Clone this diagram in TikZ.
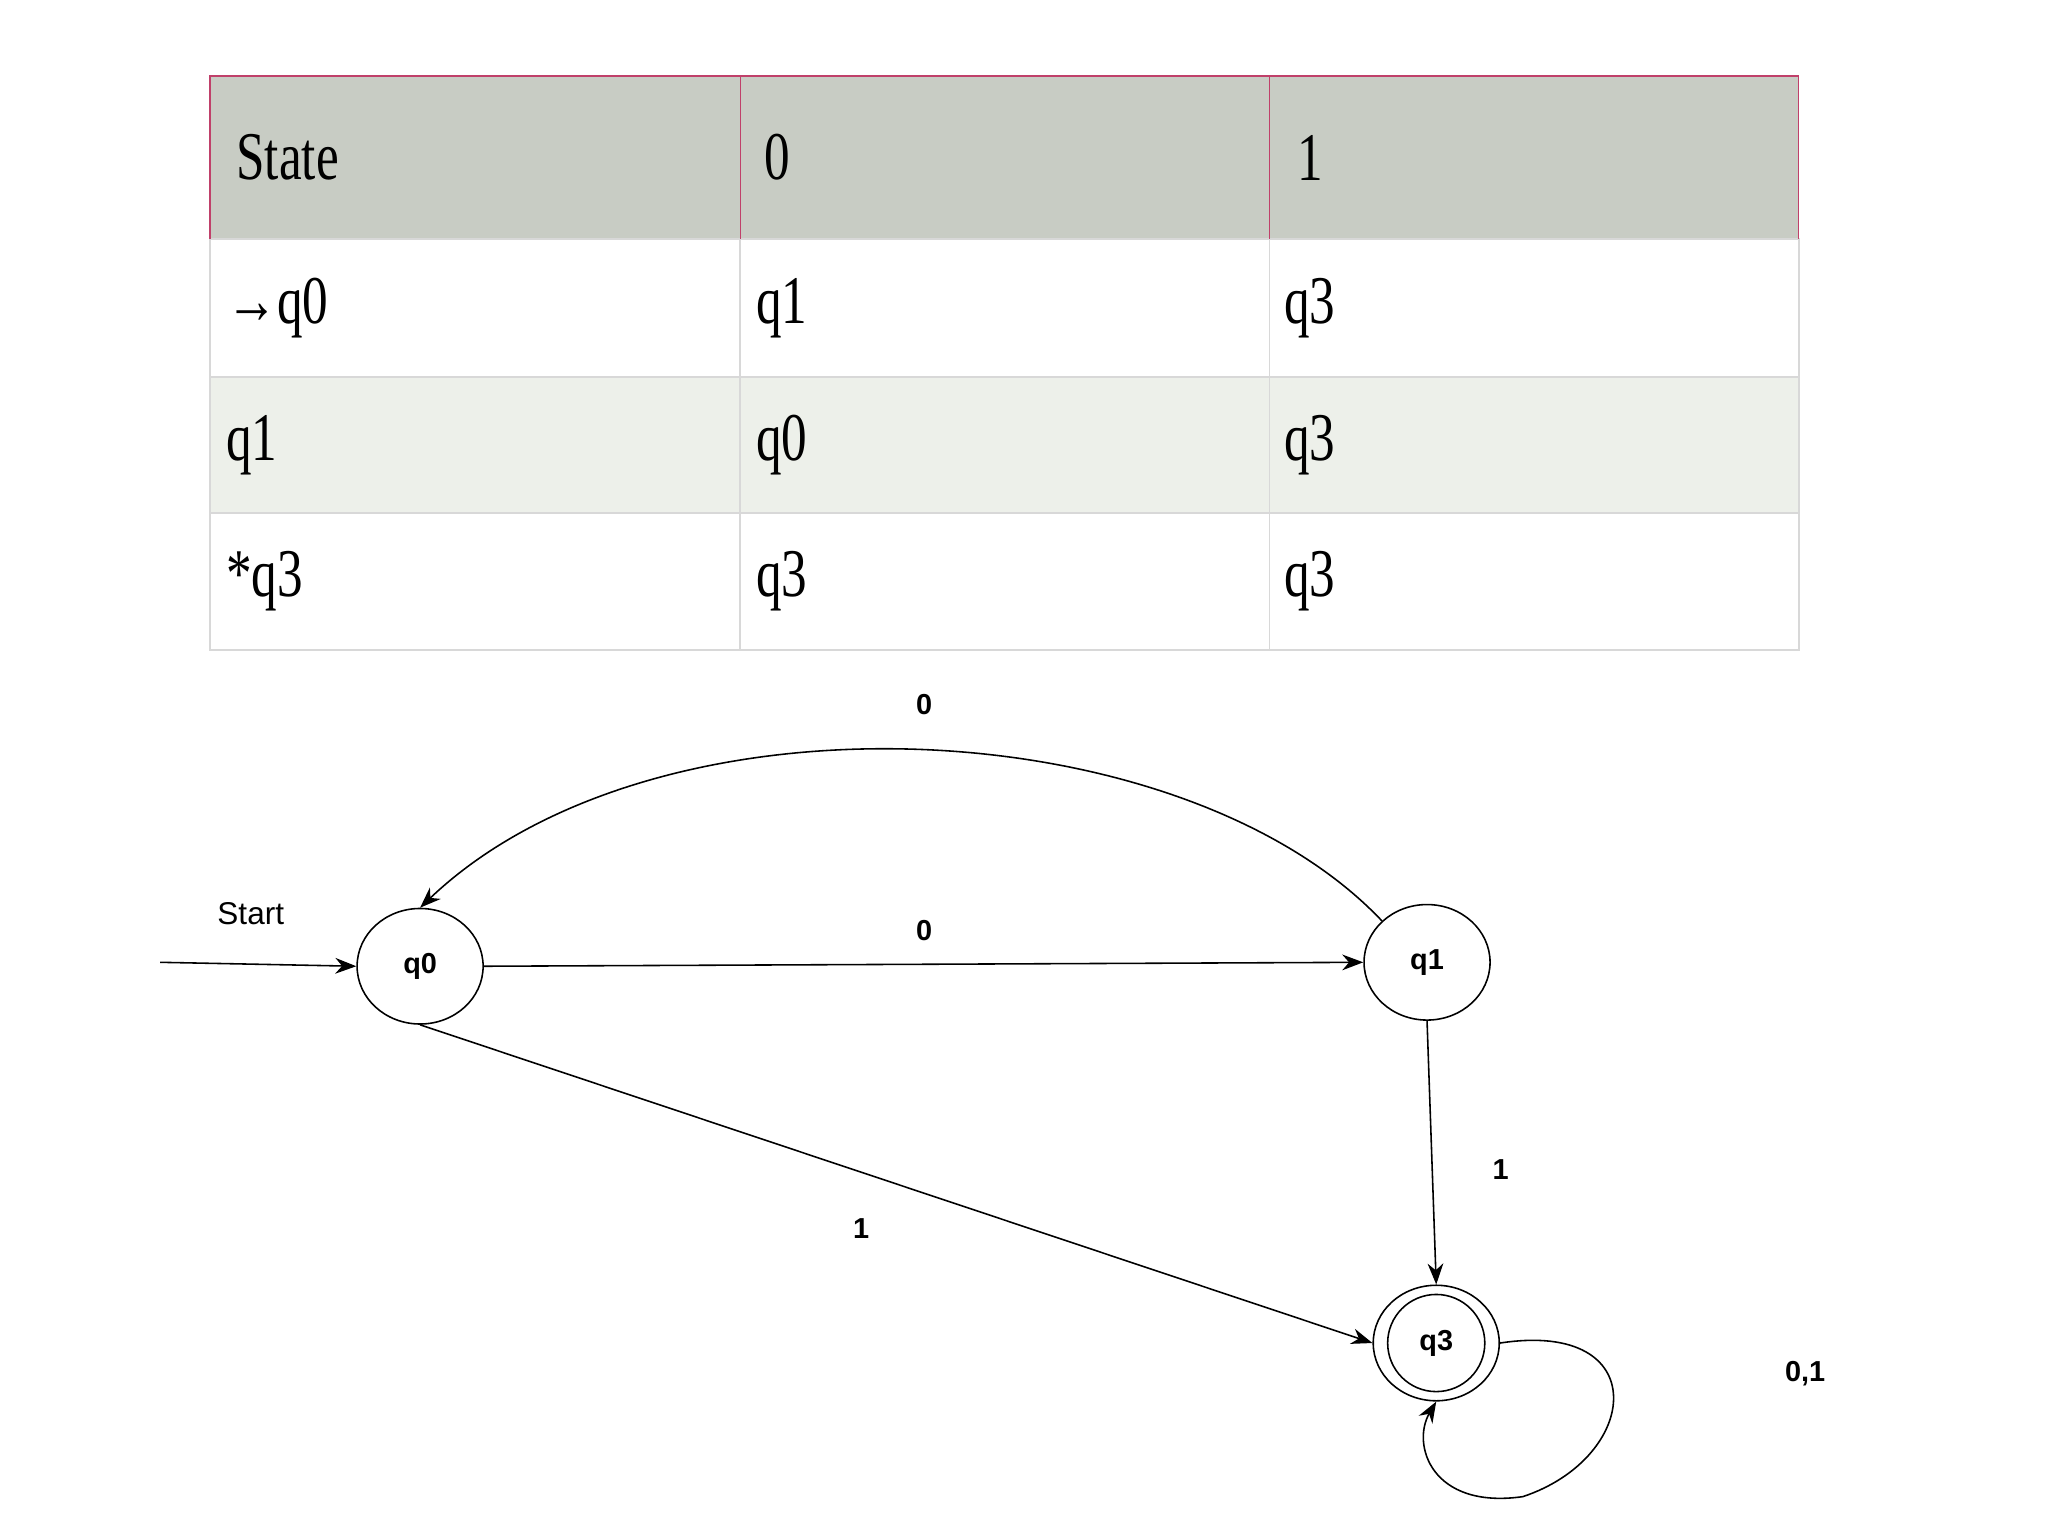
\documentclass[tikz,border=0pt]{standalone}
\usepackage{fontspec}
\setmainfont{Liberation Serif}
\setsansfont{Liberation Sans}
\usetikzlibrary{arrows.meta,shapes.geometric}
\definecolor{hdr}{HTML}{C8CCC4}
\definecolor{alt}{HTML}{EDF0EA}
\definecolor{pinkb}{HTML}{C0406A}
\definecolor{gridc}{HTML}{D8D8D8}
\begin{document}
\begin{tikzpicture}[x=1pt,y=-1pt,
  cell/.style={anchor=west,inner sep=0pt,font=\fontsize{52}{56}\selectfont,xscale=0.75},
  st/.style={draw,ellipse,minimum width=96pt,minimum height=88pt,inner sep=0pt,font=\sffamily\bfseries\fontsize{22}{24}\selectfont,line width=1.2pt},
  lab/.style={font=\sffamily\bfseries\fontsize{22}{24}\selectfont},
  arr/.style={-{Stealth[length=16pt,width=12pt]},line width=1.2pt}]
\useasboundingbox (0,0) rectangle (1560,1170);
\fill[white] (0,0) rectangle (1560,1170);
% table
\fill[hdr] (160,58) rectangle (1370,182);
\fill[alt] (160,287) rectangle (1370,391);
\draw[gridc,line width=1.5pt] (160,182) rectangle (1370,495);
\draw[gridc,line width=1.5pt] (160,287) -- (1370,287) (160,391) -- (1370,391)
  (564,182) -- (564,495) (967,182) -- (967,495);
\draw[pinkb,line width=1.2pt] (160,182) -- (160,58) -- (1370,58) -- (1370,182)
  (564,58) -- (564,182) (967,58) -- (967,182);
\node[cell] (h0) at (180,120) {State};
\node[cell] (h1) at (582,120) {0};
\node[cell] (h2) at (988,120) {1};
\node[cell] (r00) at (172,235) {→q0};
\node[cell] (r01) at (576,235) {q1};
\node[cell] (r02) at (978,235) {q3};
\node[cell] (r10) at (172,339) {q1};
\node[cell] (r11) at (576,339) {q0};
\node[cell] (r12) at (978,339) {q3};
\node[cell] (r20) at (172,443) {*q3};
\node[cell] (r21) at (576,443) {q3};
\node[cell] (r22) at (978,443) {q3};
% automaton
\node[st] (q0) at (320,736) {q0};
\node[st] (q1) at (1087,733) {q1};
\node[st] (q3) at (1094,1023) {q3};
\node[draw,circle,minimum size=74pt,line width=1.2pt] (q3i) at (1094,1023) {};
\coordinate (s) at (122,733);
\draw[arr] (s) -- (q0.west);
\node[font=\sffamily\fontsize{24}{26}\selectfont] (start) at (191,696) {Start};
\draw[arr] (q0.east) -- (q1.west);
\node[lab] (l1) at (704,709) {0};
\draw[arr] (q1.north west) .. controls (900,540) and (500,520) .. (q0.north);
\node[lab] (l2) at (704,537) {0};
\draw[arr] (q0.south) -- (q3.west);
\node[lab] (l3) at (656,936) {1};
\draw[arr] (q1.south) -- (q3.north);
\node[lab] (l4) at (1143,891) {1};
\draw[arr] (q3.east) .. controls (1260,1005) and (1250,1110) .. (1160,1140)
  .. controls (1090,1150) and (1075,1100) .. (q3.south);
\node[lab] (l5) at (1375,1046) {0,1};
\end{tikzpicture}
\end{document}
